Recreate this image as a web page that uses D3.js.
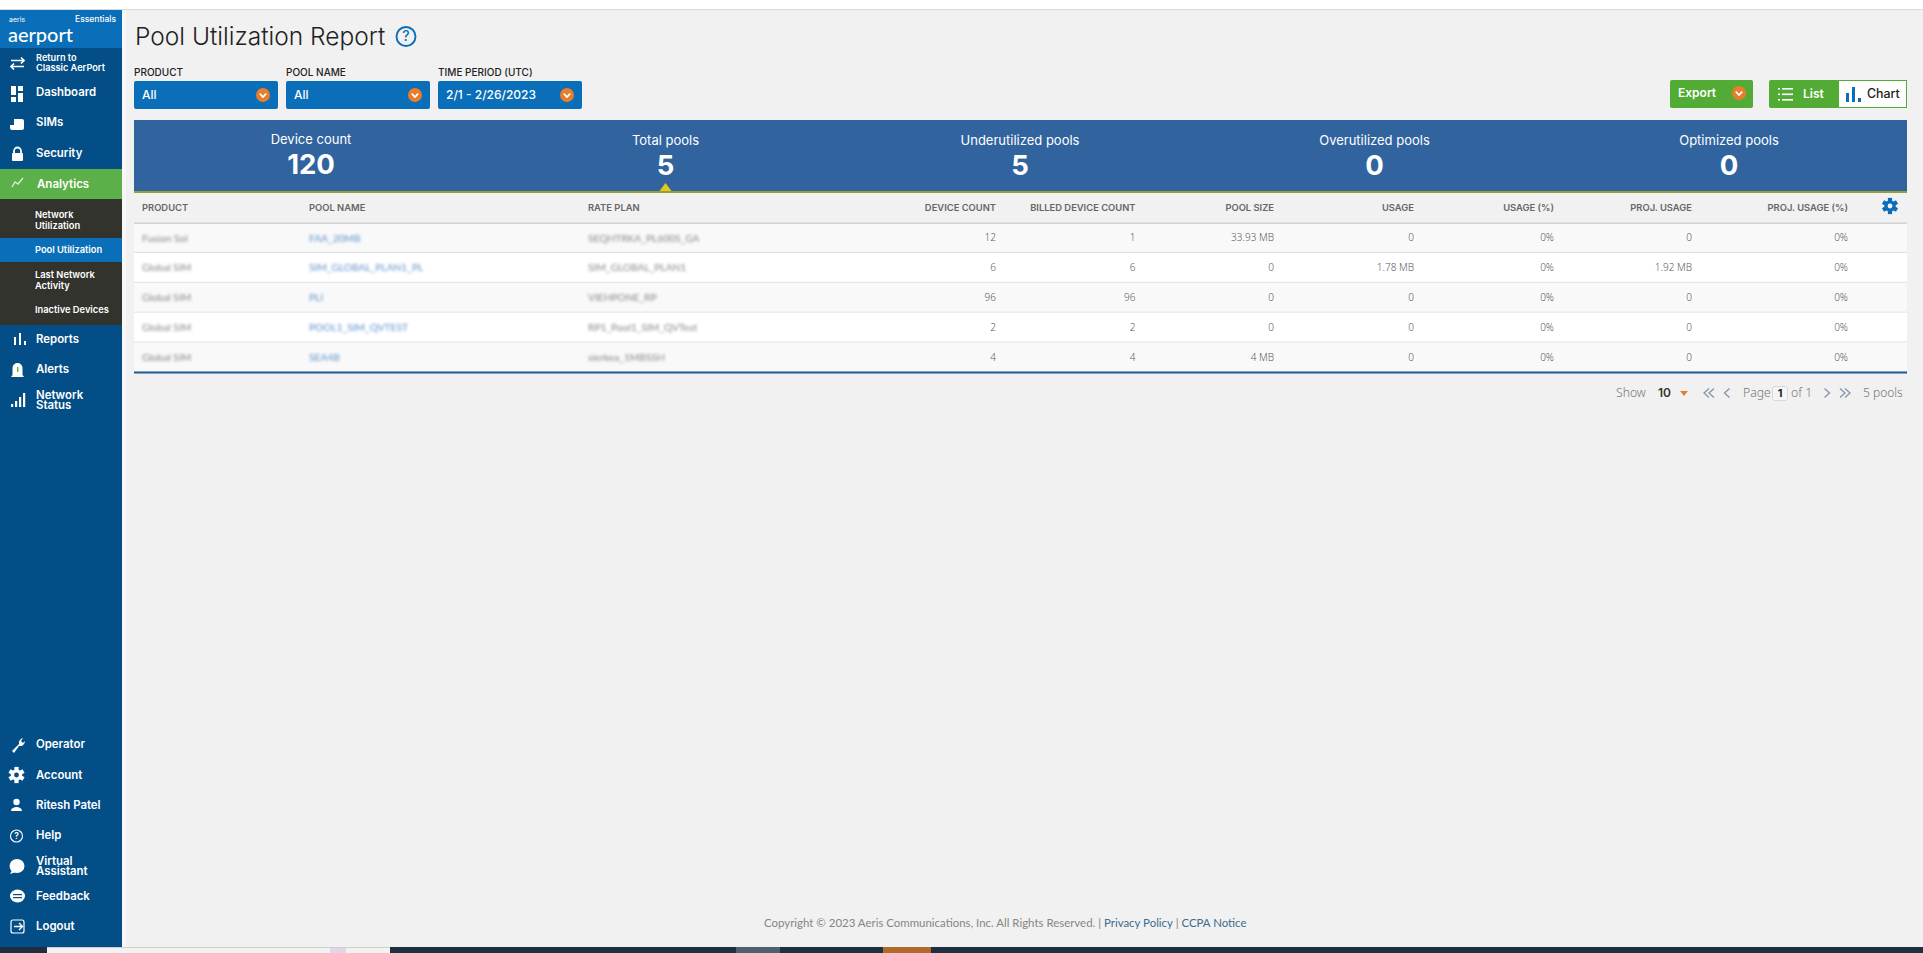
<!DOCTYPE html>
<html>
    <head>
        <meta charset="utf-8">
        <script src="https://d3js.org/d3.v7.min.js"></script>
        <title>Pool Utilization Report</title>
        <style>
            html, body {margin: 0; padding: 0; background-color: #f1f1f1; overflow: hidden;}
            svg {display: block;}
            .nav {font-family: "Inter", sans-serif; font-weight: 600; fill: white;}
            .body {font-family: "Lato", sans-serif;}
            .nums {font-family: "Noto Sans", sans-serif;}
            .head {font-family: "Inter", sans-serif;}
        </style>
    </head>
    <body>
        <script>
            // table values
            const columns = ['PRODUCT', 'POOL NAME', 'RATE PLAN', 'DEVICE COUNT', 'BILLED DEVICE COUNT', 'POOL SIZE', 'USAGE', 'USAGE (%)', 'PROJ. USAGE', 'PROJ. USAGE (%)']
            const products = ['Fusion Sol', 'Global SIM', 'Global SIM', 'Global SIM', 'Global SIM']
            const poolNames = ['FAA_20MB', 'SIM_GLOBAL_PLAN1_PL', 'PLI', 'POOL1_SIM_QVTEST', 'SEA4B']
            const ratePlans = ['SEQHTRKA_PL600S_GA', 'SIM_GLOBAL_PLAN1', 'VIEHPONE_RP', 'RP1_Pool1_SIM_QVTest', 'sierkea_1MBSSH']
            const deviceCounts = ['12', '6', '96', '2', '4']
            const billedCounts = ['1', '6', '96', '2', '4']
            const poolSizes = ['33.93 MB', '0', '0', '0', '4 MB']
            const usages = ['0', '1.78 MB', '0', '0', '0']
            const usagePcts = ['0%', '0%', '0%', '0%', '0%']
            const projUsages = ['0', '1.92 MB', '0', '0', '0']
            const projPcts = ['0%', '0%', '0%', '0%', '0%']

            // summary band
            const kpiLabels = ['Device count', 'Total pools', 'Underutilized pools', 'Overutilized pools', 'Optimized pools']
            const kpiValues = ['120', '5', '5', '0', '0']

            // sidebar
            const navTop = [['Return to', 'Classic AerPort'], ['Dashboard'], ['SIMs'], ['Security']]
            const navLower = [['Reports'], ['Alerts'], ['Network', 'Status']]
            const navBottom = [['Operator'], ['Account'], ['Ritesh Patel'], ['Help'], ['Virtual', 'Assistant'], ['Feedback'], ['Logout']]
            const subMenu = [['Network', 'Utilization'], ['Pool Utilization'], ['Last Network', 'Activity'], ['Inactive Devices']]

            const filterLabels = ['PRODUCT', 'POOL NAME', 'TIME PERIOD (UTC)']
            const filterValues = ['All', 'All', '2/1 - 2/26/2023']

            const width = 1923
            const height = 953

            const svg = d3.select('body').append('svg')
                .attr('width', width)
                .attr('height', height)

            const defs = svg.append('defs')
            defs.append('filter').attr('id', 'blur')
                .attr('x', '-10%').attr('y', '-60%').attr('width', '120%').attr('height', '220%')
                .append('feGaussianBlur').attr('stdDeviation', 1.8)

            const rect = (x, y, w, h, fill, r) => svg.append('rect')
                .attr('x', x).attr('y', y).attr('width', w).attr('height', h)
                .attr('fill', fill).attr('rx', r || 0)

            const text = (x, y, str, size, fill, cls, weight, anchor) => svg.append('text')
                .attr('x', x).attr('y', y)
                .attr('dy', '0.35em')
                .attr('class', cls)
                .attr('font-size', size)
                .attr('font-weight', weight || 400)
                .attr('text-anchor', anchor || 'start')
                .style('fill', fill)
                .text(str)

            const path = (d, fill, stroke, sw) => svg.append('path')
                .attr('d', d)
                .attr('fill', fill || 'none')
                .attr('stroke', stroke || 'none')
                .attr('stroke-width', sw || 0)

            const chevron = (cx, cy, color) => {
                svg.append('circle').attr('cx', cx).attr('cy', cy).attr('r', 7).attr('fill', '#e87e2c')
                path(`M${cx - 3.2},${cy - 1.4}L${cx},${cy + 2}L${cx + 3.2},${cy - 1.4}`, 'none', color || 'white', 1.8)
            }

            const gear = (cx, cy, r, fill, hole) => {
                for (let i = 0; i < 6; i++) {
                    const a = i * 60
                    svg.append('rect')
                        .attr('x', cx - r * 0.28).attr('y', cy - r * 1.08)
                        .attr('width', r * 0.56).attr('height', r * 0.5)
                        .attr('fill', fill)
                        .attr('transform', `rotate(${a} ${cx} ${cy})`)
                }
                svg.append('circle').attr('cx', cx).attr('cy', cy).attr('r', r * 0.76).attr('fill', fill)
                svg.append('circle').attr('cx', cx).attr('cy', cy).attr('r', r * 0.32).attr('fill', hole)
            }

            // pager arrows, dir -1 points left
            const pagerArrow = (cx, cy, dir, count) => {
                d3.range(count).forEach(i => {
                    const x = cx + (i - (count - 1) / 2) * 5
                    path(`M${x - dir * 2.5},${cy - 4.5}L${x + dir * 2.5},${cy}L${x - dir * 2.5},${cy + 4.5}`, 'none', '#8a98a6', 1.4)
                })
            }

            // page frame
            rect(0, 0, width, 9, 'white')
            rect(0, 9, width, 1, '#d9d9d9')
            rect(122, 10, 4, 937, '#f7f7f7')

            // bottom strip of the screenshot
            rect(0, 947, width, 6, '#1e3040')
            rect(47, 947, 343, 6, '#f2f2f2')
            rect(47, 947, 343, 1, '#cfcfcf')
            rect(330, 948, 16, 5, '#e4d4e6')
            rect(736, 947, 44, 6, '#4f5f6b')
            rect(883, 947, 48, 6, '#b2692c')

            // sidebar
            rect(0, 10, 122, 937, '#034e87')
            rect(0, 10, 122, 38, '#0a6fb8')
            text(9, 19.5, 'aeris', 7, 'white', 'head', 400)
            text(116, 19, 'Essentials', 8.5, 'white', 'head', 500, 'end')
            text(8, 35, 'aerport', 20, 'white', 'body', 500).attr('textLength', 65)

            const navLines = (labels, ys, x) => {
                labels.forEach((lines, i) => {
                    lines.forEach((l, j) => {
                        const y = ys[i] + (lines.length > 1 ? (j - 0.5) * 10.5 : 0)
                        const size = lines[0] === 'Return to' ? 9.2 : 11.4
                        text(x, y, l, size, 'white', 'nav', 600)
                    })
                })
            }
            navLines(navTop, [63, 92.5, 122.5, 153.5], 36)
            navLines(navLower, [339.5, 369.5, 400], 36)
            navLines(navBottom, [744.5, 775.5, 805.5, 835.5, 866, 896.5, 926.5], 36)

            rect(0, 169, 122, 30, '#5bb049')
            text(37, 183.5, 'Analytics', 11.5, 'white', 'nav', 600)
            rect(0, 199, 122, 126, '#33332e')
            rect(0, 238, 122, 24, '#0a6fb8')
            const subY = [220.5, 250, 280.5, 310]
            subMenu.forEach((lines, i) => {
                lines.forEach((l, j) => {
                    text(35, subY[i] + (lines.length > 1 ? (j - 0.5) * 11 : 0), l, 9.3, 'white', 'nav', 600)
                })
            })

            // sidebar icons
            path('M11,60.5H24M21,57.5L24,60.5L21,63.5', 'none', 'white', 1.7)
            path('M11,66.5H24M14,63.5L11,66.5L14,69.5', 'none', 'white', 1.7)
            rect(11, 86, 5, 9, 'white'); rect(18, 86, 5, 5, 'white'); rect(11, 97, 5, 5, 'white'); rect(18, 93, 5, 9, 'white')
            rect(10, 119, 14, 11, 'white', 2); rect(10, 119, 4, 6, '#034e87')
            rect(12, 153, 11, 8, 'white', 1)
            path('M14,154V151a3.5,3.5 0 0 1 7,0V154', 'none', 'white', 1.8)
            path('M12,187L15,182L18,184L23,178', 'none', '#d9efd2', 1.4)
            rect(14, 337, 2, 8, 'white'); rect(19, 333, 2, 12, 'white'); rect(24, 341, 2, 4, 'white')
            path('M17.5,363a5,5 0 0 0 -5,5V375L11,377H24L22.5,375V368a5,5 0 0 0 -5,-5Z', 'white')
            rect(17, 367, 1.4, 5, '#5bb049')
            rect(11, 404, 2.2, 3, 'white'); rect(15, 401, 2.2, 6, 'white'); rect(19, 397, 2.2, 10, 'white'); rect(23, 393, 2.2, 14, 'white')
            path('M12,751L19,744a5,5 0 0 1 4,-6L21,741L23,743L25,741a5,5 0 0 1 -6,5L14,753Z', 'white')
            gear(16.5, 775, 7.5, 'white', '#034e87')
            svg.append('circle').attr('cx', 16.5).attr('cy', 802).attr('r', 3.2).attr('fill', 'white')
            path('M11,811a5.5,4 0 0 1 11,0Z', 'white')
            svg.append('circle').attr('cx', 16.5).attr('cy', 836).attr('r', 6).attr('fill', 'none').attr('stroke', 'white').attr('stroke-width', 1.1)
            text(16.5, 836, '?', 8.5, 'white', 'nav', 600, 'middle')
            svg.append('ellipse').attr('cx', 17).attr('cy', 866).attr('rx', 7.5).attr('ry', 7).attr('fill', 'white')
            path('M12,870L10,874L16,872Z', 'white')
            svg.append('ellipse').attr('cx', 17.5).attr('cy', 896).attr('rx', 7.5).attr('ry', 6.5).attr('fill', 'white')
            rect(13, 894, 9, 1.2, '#034e87'); rect(13, 897, 9, 1.2, '#034e87')
            svg.append('rect').attr('x', 11).attr('y', 920).attr('width', 13).attr('height', 13).attr('rx', 2)
                .attr('fill', 'none').attr('stroke', 'white').attr('stroke-width', 1.2)
            path('M14,926.5H22M19,923L22.5,926.5L19,930', 'none', 'white', 1.3)

            // title
            text(135, 36, 'Pool Utilization Report', 24.5, '#222', 'head', 300)
            svg.append('circle').attr('cx', 406).attr('cy', 36.5).attr('r', 9.5).attr('fill', 'none')
                .attr('stroke', '#0a6fb8').attr('stroke-width', 1.9)
            text(406, 36.5, '?', 14, '#0a6fb8', 'head', 500, 'middle')

            // filters
            const filterX = d3.scalePoint().domain(filterLabels).range([134, 438])
            filterLabels.forEach((l, i) => {
                const x = filterX(l)
                text(x, 72, l, 10, '#222', 'head', 500)
                rect(x, 81, 144, 28, '#0a6fb8', 2)
                text(x + 8, 95, filterValues[i], 12, 'white', 'head', 500)
                chevron(x + 129, 95)
            })

            // export and view buttons
            rect(1670, 80, 83, 28, '#52ab35', 2)
            text(1678, 93, 'Export', 12, 'white', 'head', 600)
            chevron(1739, 93)
            rect(1769, 80, 70, 28, '#52ab35', 2)
            svg.append('rect').attr('x', 1838.5).attr('y', 80.5).attr('width', 68).attr('height', 27)
                .attr('fill', 'white').attr('stroke', '#52ab35')
            d3.range(3).forEach(i => {
                rect(1778, 88 + i * 5.5, 2, 1.6, 'white')
                rect(1782, 88 + i * 5.5, 11, 1.6, 'white')
            })
            text(1803, 94, 'List', 12, 'white', 'head', 600)
            rect(1846, 93, 3, 9, '#0a6fb8'); rect(1852, 87, 3, 15, '#0a6fb8'); rect(1858, 98, 3, 4, '#0a6fb8')
            text(1867, 94, 'Chart', 12.4, '#222', 'head', 500)

            // summary band
            const kpiX = d3.scalePoint().domain(kpiLabels).range([311, 1729])
            rect(134, 120, 1773, 71, '#31649f')
            rect(134, 191, 1773, 2, '#8f9f3a')
            kpiLabels.forEach((l, i) => {
                const shift = i === 0 ? -1.5 : 0
                text(kpiX(l), 140.5 + shift, l, 13, 'white', 'head', 400, 'middle')
                text(kpiX(l), 165.5 + shift, kpiValues[i], 27.5, 'white', 'head', 700, 'middle')
            })
            path(`M${kpiX('Total pools') - 6},191L${kpiX('Total pools')},183L${kpiX('Total pools') + 6},191Z`, '#e9c71a')

            // table
            const rowY = d3.scaleBand().domain(d3.range(products.length)).range([223, 372.5])
            const colX = d3.scaleOrdinal().domain(columns)
                .range([142, 309, 588, 996, 1135.5, 1274, 1414, 1554, 1692, 1848])
            const rightCols = columns.slice(3)

            rowY.domain().forEach(i => {
                rect(134, rowY(i), 1773, rowY.bandwidth(), i % 2 ? 'white' : '#f9f9f9')
                rect(134, rowY(i) + rowY.bandwidth() - 1, 1773, 1, '#dcdcdc')
            })
            rect(134, 222.5, 1773, 1.5, '#d2d2d2')
            rect(134, 371.5, 1773, 2, '#1f5c98')

            columns.forEach(c => {
                text(colX(c), 208, c, 9.4, '#666', 'head', 600, rightCols.includes(c) ? 'end' : 'start')
            })
            gear(1890, 206, 7.5, '#0a6fb8', '#f1f1f1')

            const rowCols = [products, poolNames, ratePlans]
            const rowColors = ['#858585', '#5a90c8', '#858585']
            rowCols.forEach((vals, k) => {
                vals.forEach((v, i) => {
                    text(colX(columns[k]), rowY(i) + rowY.bandwidth() / 2, v, 10.2, rowColors[k], 'body', 400)
                        .attr('filter', 'url(#blur)')
                })
            })
            const numCols = [deviceCounts, billedCounts, poolSizes, usages, usagePcts, projUsages, projPcts]
            numCols.forEach((vals, k) => {
                vals.forEach((v, i) => {
                    text(colX(rightCols[k]), rowY(i) + rowY.bandwidth() / 2, v, 10, '#5c5c5c', 'nums', 300, 'end')
                })
            })

            // pager
            const pagerY = 393
            text(1616, pagerY, 'Show', 12.2, '#777', 'nums', 300)
            text(1658, pagerY, '10', 12, '#333', 'head', 600)
            path(`M1680,${pagerY - 2}H1688L1684,${pagerY + 3}Z`, '#e87e2c')
            pagerArrow(1709, pagerY, -1, 2)
            pagerArrow(1727, pagerY, -1, 1)
            text(1743, pagerY, 'Page', 12.2, '#777', 'nums', 300)
            svg.append('rect').attr('x', 1772.5).attr('y', 386.5).attr('width', 15).attr('height', 14).attr('rx', 2)
                .attr('fill', '#f4f4f4').attr('stroke', '#d8d8d8')
            text(1780, pagerY, '1', 11, '#222', 'head', 700, 'middle')
            text(1791, pagerY, 'of 1', 12.2, '#777', 'nums', 300)
            pagerArrow(1827, pagerY, 1, 1)
            pagerArrow(1845, pagerY, 1, 2)
            text(1863, pagerY, '5 pools', 12, '#777', 'nums', 300)

            // footer
            const footer = svg.append('text')
                .attr('x', 764).attr('y', 923).attr('dy', '0.35em')
                .attr('class', 'body').attr('font-size', 11.45)
                .style('fill', '#858585')
            footer.append('tspan').text('Copyright \u00A9 2023 Aeris Communications, Inc. All Rights Reserved. | ')
            footer.append('tspan').style('fill', '#3d6b8e').text('Privacy Policy')
            footer.append('tspan').text(' | ')
            footer.append('tspan').style('fill', '#3d6b8e').text('CCPA Notice')
        </script>
    </body>
</html>
